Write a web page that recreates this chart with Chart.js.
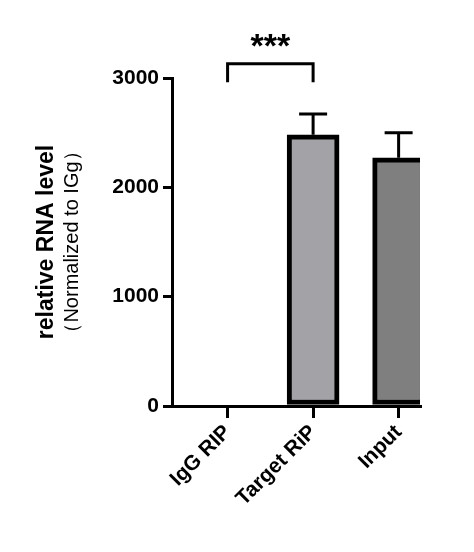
<!DOCTYPE html>
<html>
<head>
<meta charset="utf-8">
<script src="https://cdn.jsdelivr.net/npm/chart.js@4"></script>
<style>
  html, body { margin: 0; background: #fff; }
  #wrap { width: 474px; height: 552px; }
</style>
</head>
<body>
<div id="wrap"><canvas id="bar-chart" width="474" height="552"></canvas></div>
<script>
const categories = ['IgG RIP', 'Target RiP', 'Input'];
const means = [0, 2480, 2270];
const errors = [0, 190, 230];
const barColors = ['#ffffff', '#a3a3a7', '#7f7f7f'];
const yTicks = [0, 1000, 2000, 3000];
const bracket = { from: 0, to: 1, top: 3130, bottom: 2960, label: '***' };
const FONT = '"Liberation Sans", Arial, sans-serif';

const extras = {
  id: 'extras',
  afterDatasetsDraw(chart) {
    const ctx = chart.ctx;
    const x = chart.scales.x, y = chart.scales.y;
    ctx.save();
    ctx.strokeStyle = '#000';
    ctx.lineWidth = 3;
    means.forEach((m, i) => {
      if (!errors[i]) return;
      const cx = x.getPixelForValue(i);
      const y0 = y.getPixelForValue(m);
      const y1 = y.getPixelForValue(m + errors[i]);
      ctx.beginPath();
      ctx.moveTo(cx, y0); ctx.lineTo(cx, y1);
      ctx.moveTo(cx - 14, y1); ctx.lineTo(cx + 14, y1);
      ctx.stroke();
    });
    const bx0 = x.getPixelForValue(bracket.from), bx1 = x.getPixelForValue(bracket.to);
    const bt = y.getPixelForValue(bracket.top), bb = y.getPixelForValue(bracket.bottom);
    ctx.beginPath();
    ctx.moveTo(bx0, bb); ctx.lineTo(bx0, bt); ctx.lineTo(bx1, bt); ctx.lineTo(bx1, bb);
    ctx.stroke();
    ctx.fillStyle = '#000';
    ctx.font = 'bold 34px ' + FONT;
    ctx.textAlign = 'center';
    ctx.textBaseline = 'middle';
    ctx.fillText(bracket.label, (bx0 + bx1) / 2, bt - 16);

    // y-axis title, two lines with different weights
    const cy = (y.top + y.bottom) / 2;
    ctx.translate(0, cy);
    ctx.rotate(-Math.PI / 2);
    ctx.font = 'bold 23px ' + FONT;
    ctx.fillText('relative RNA level', 0, 47);
    ctx.font = '20px ' + FONT;
    ctx.fillText('（Normalized to IGg）', 0, 72);
    ctx.restore();
  }
};

new Chart(document.getElementById('bar-chart').getContext('2d'), {
  type: 'bar',
  data: {
    datasets: [{
      data: means.map((v, i) => ({ x: i, y: v })),
      backgroundColor: barColors,
      borderColor: '#000',
      borderWidth: 5,
      barThickness: 52,
      borderSkipped: false
    }]
  },
  options: {
    responsive: false,
    animation: false,
    layout: { padding: { top: 78, right: 54, left: 0, bottom: 0 } },
    plugins: { legend: { display: false }, tooltip: { enabled: false } },
    scales: {
      x: {
        type: 'linear',
        offset: false,
        min: -0.65,
        max: 2.25,
        afterBuildTicks: s => { s.ticks = categories.map((c, i) => ({ value: i })); },
        afterFit: s => { s.height = 146; },
        ticks: {
          callback: v => categories[v],
          color: '#000',
          font: { family: FONT, size: 21, weight: 'bold' },
          maxRotation: 45, minRotation: 45, padding: 2
        },
        grid: { offset: false, drawOnChartArea: false, tickLength: 12, tickColor: '#000', lineWidth: 3 },
        border: { color: '#000', width: 3 }
      },
      y: {
        min: 0,
        max: 3000,
        afterBuildTicks: s => { s.ticks = yTicks.map(v => ({ value: v })); },
        afterFit: s => { s.width = 172; },
        ticks: {
          callback: v => String(v),
          color: '#000',
          font: { family: FONT, size: 21, weight: 'bold' },
          padding: 4
        },
        grid: { drawOnChartArea: false, tickLength: 9, tickColor: '#000', lineWidth: 3 },
        border: { color: '#000', width: 3 }
      }
    }
  },
  plugins: [extras]
});
</script>
</body>
</html>
